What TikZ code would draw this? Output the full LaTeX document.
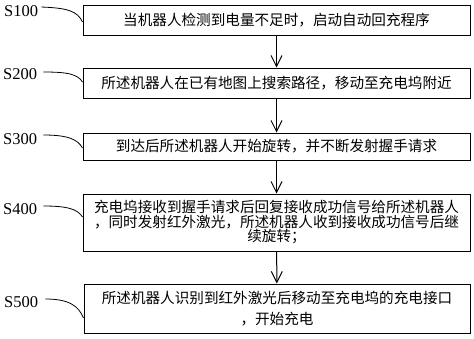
\documentclass[tikz,border=0pt]{standalone}
\usepackage{fontspec}
\setmainfont{Liberation Serif}
\newfontfamily\cjk{Noto Sans CJK SC}
\usetikzlibrary{arrows.meta}
\begin{document}
\begin{tikzpicture}[x=1pt,y=-1pt,
  stepbox/.style={draw,line width=1pt,inner sep=0pt,align=center,
    font=\cjk\fontsize{14.6}{14.5}\selectfont},
  steplabel/.style={anchor=west,inner sep=0pt,font=\fontsize{16.5}{16.5}\selectfont},
  flow/.style={line width=1pt,-{Straight Barb[length=11pt,width=11pt,line width=1pt]}},
  leader/.style={line width=0.8pt}]
\useasboundingbox (0,0) rectangle (474,338);
\fill[white] (0,0) rectangle (474,338);

\node[stepbox,minimum width=387pt,minimum height=30pt] (b1) at (276.5,20)
  {当机器人检测到电量不足时，启动自动回充程序};
\node[stepbox,minimum width=387pt,minimum height=30pt] (b2) at (276.5,83)
  {所述机器人在已有地图上搜索路径，移动至充电坞附近};
\node[stepbox,minimum width=387pt,minimum height=27pt] (b3) at (276.5,146.5)
  {到达后所述机器人开始旋转，并不断发射握手请求};
\node[stepbox,minimum width=387pt,minimum height=57pt] (b4) at (276.5,222.5)
  {充电坞接收到握手请求后回复接收成功信号给所述机器人\\，同时发射红外激光，所述机器人收到接收成功信号后继\\续旋转；};
\node[stepbox,minimum width=386pt,minimum height=49pt,
  font=\cjk\fontsize{14.6}{21}\selectfont] (b5) at (277,308.5)
  {所述机器人识别到红外激光后移动至充电坞的充电接口\\，开始充电};

\node[steplabel] (l1) at (4,11) {S100};
\node[steplabel] (l2) at (3,74) {S200};
\node[steplabel] (l3) at (3,139) {S300};
\node[steplabel] (l4) at (3,209) {S400};
\node[steplabel] (l5) at (4,302) {S500};

\draw[flow] (b1) -- (b2);
\draw[flow] (b2) -- (b3);
\draw[flow] (b3) -- (b4);
\draw[flow] (b4) -- (b5);

\draw[leader] ([xshift=3pt,yshift=4pt]l1.east) .. controls +(26,1) and +(-5,-11) .. ([yshift=-2pt]b1.west);
\draw[leader] ([xshift=6pt,yshift=2pt]l2.east) .. controls +(24,0) and +(-5,-8) .. ([yshift=1pt]b2.west);
\draw[leader] ([xshift=6pt,yshift=4pt]l3.east) .. controls +(24,0) and +(-5,-9) .. ([yshift=-1.5pt]b3.west);
\draw[leader] ([xshift=6pt,yshift=3pt]l4.east) .. controls +(24,0) and +(-5,-8) .. ([yshift=5.5pt]b4.west);
\draw[leader] ([xshift=7pt,yshift=3pt]l5.east) .. controls +(24,0) and +(-5,-12) .. ([yshift=-9.5pt]b5.west);
\end{tikzpicture}
\end{document}
